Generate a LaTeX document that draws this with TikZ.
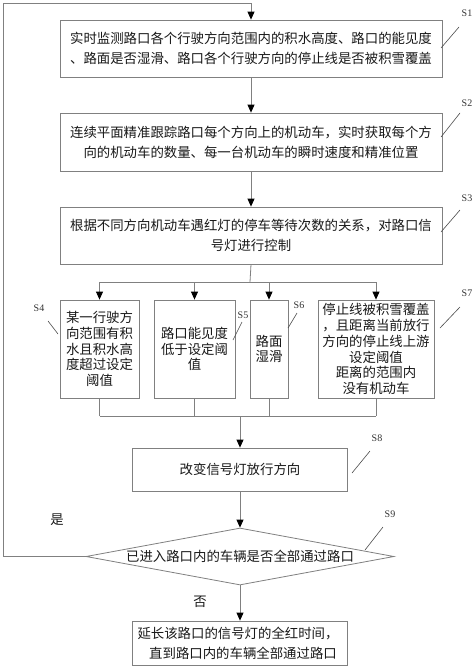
\documentclass[tikz,border=0pt]{standalone}
\usepackage{fontspec}
\newfontfamily\cjk{Noto Sans CJK SC}
\newfontfamily\lbl{Liberation Serif}
\usetikzlibrary{arrows.meta,shapes.geometric}
\begin{document}
\begin{tikzpicture}[x=1pt,y=-1pt,
  line/.style={draw=black!50,line width=0.8pt},
  arr/.style={line,-{Triangle[width=7pt,length=8pt,color=black]}},
  box/.style={line,rectangle,inner sep=0pt,align=center,text=black!90,
    font=\cjk\fontsize{13.4}{20}\selectfont},
  nbox/.style={box,font=\cjk\fontsize{13.4}{15.8}\selectfont},
  slbl/.style={font=\lbl\fontsize{10}{12}\selectfont,text=black!80,inner sep=0pt},
  yn/.style={font=\cjk\fontsize{13.4}{15}\selectfont,text=black!90,inner sep=0pt},
  lead/.style={draw=black!70,line width=0.6pt}]
\useasboundingbox (0,0) rectangle (474,667);
\fill[white] (0,0) rectangle (474,667);
% main boxes
\node[box,minimum width=382pt,minimum height=57pt] (s1) at (251,48.5)
  {实时监测路口各个行驶方向范围内的积水高度、路口的能见度\\、路面是否湿滑、路口各个行驶方向的停止线是否被积雪覆盖};
\node[box,minimum width=382pt,minimum height=58pt] (s2) at (251,142)
  {连续平面精准跟踪路口每个方向上的机动车，实时获取每个方\\向的机动车的数量、每一台机动车的瞬时速度和精准位置};
\node[box,minimum width=382pt,minimum height=57pt] (s3) at (251,235.5)
  {根据不同方向机动车遇红灯的停车等待次数的关系，对路口信\\号灯进行控制};
\node[nbox,minimum width=79pt,minimum height=98pt] (s4) at (99.5,349)
  {某一行驶方\\向范围有积\\水且积水高\\度超过设定\\阈值};
\node[nbox,minimum width=81pt,minimum height=98pt] (s5) at (194.5,349)
  {路口能见度\\低于设定阈\\值};
\node[nbox,minimum width=38pt,minimum height=98pt] (s6) at (269,349)
  {路面\\湿滑};
\node[nbox,minimum width=116pt,minimum height=98pt] (s7) at (376,349)
  {停止线被积雪覆盖\\，且距离当前放行\\方向的停止线上游\\设定阈值\\距离的范围内\\没有机动车};
\node[box,minimum width=215pt,minimum height=43pt] (s8) at (240,469.5)
  {改变信号灯放行方向};
\node[box,diamond,aspect=5.4,minimum width=308pt,minimum height=57pt,inner sep=0pt] (s9) at (240,556.5)
  {已进入路口内的车辆是否全部通过路口};
\node[box,minimum width=215pt,minimum height=44pt] (s10) at (240,643)
  {\hspace*{-4pt}延长该路口的信号灯的全红时间，\\\hspace*{6pt}直到路口内的车辆全部通过路口};
% coordinates
\coordinate (top) at (3,3);
\coordinate (lft) at (3,556.5);
\coordinate (br) at (250,282);
\coordinate (mg) at (240,416);
% connectors
\draw[arr] (s1) -- (s2);
\draw[arr] (s2) -- (s3);
\draw[line] (s3.south) -- (br);
\draw[line] (s4.north |- br) -- (s7.north |- br);
\draw[arr] (s4.north |- br) -- (s4.north);
\draw[arr] (s5.north |- br) -- (s5.north);
\draw[arr] (s6.north |- br) -- (s6.north);
\draw[arr] (s7.north |- br) -- (s7.north);
\draw[line] (s4.south) -- (s4.south |- mg);
\draw[line] (s5.south) -- (s5.south |- mg);
\draw[line] (s6.south) -- (s6.south |- mg);
\draw[line] (s7.south) -- (s7.south |- mg);
\draw[line] (s4.south |- mg) -- (s7.south |- mg);
\draw[arr] (mg) -- (s8.north);
\draw[arr] (s8) -- (s9);
\draw[arr] (s9) -- (s10);
\draw[line] (s9.west) -- (lft) -- (top) -- (s1.north |- top);
\draw[arr] (s1.north |- top) -- (s1.north);
% yes / no
\node[yn] (yes) at (57,520) {是};
\node[yn] (no) at (200,602) {否};
% step labels
\node[slbl] (l1) at (467,13) {S1};
\node[slbl] (l2) at (467,103) {S2};
\node[slbl] (l3) at (467,198) {S3};
\node[slbl] (l4) at (39,308) {S4};
\node[slbl] (l5) at (243,315) {S5};
\node[slbl] (l6) at (299,305) {S6};
\node[slbl] (l7) at (467,293) {S7};
\node[slbl] (l8) at (377,438) {S8};
\node[slbl] (l9) at (390,514) {S9};
\draw[lead] (441,48) -- (459,27);
\draw[lead] (441,137) -- (460,113);
\draw[lead] (441,232) -- (460,210);
\draw[lead] (48,321) -- (58,334);
\draw[lead] (233,340) -- (242,322);
\draw[lead] (288,328) -- (297,313);
\draw[lead] (440,328) -- (460,307);
\draw[lead] (352,473) -- (370,451);
\draw[lead] (365,550) -- (383,527);
\end{tikzpicture}
\end{document}
